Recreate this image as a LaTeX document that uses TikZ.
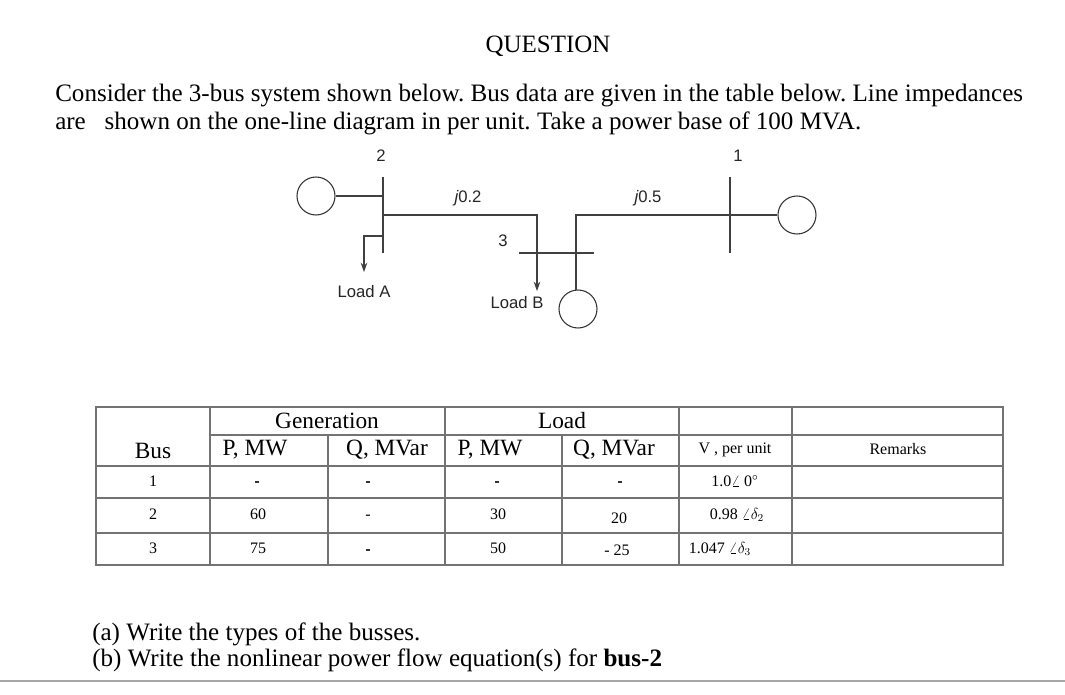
\documentclass[tikz,border=0pt]{standalone}
\usepackage{fontspec}
\setmainfont{Liberation Serif}
\newfontfamily\diagfont{Liberation Sans}
\usetikzlibrary{arrows.meta}
\frenchspacing
\begin{document}
\begin{tikzpicture}[x=0.75pt,y=-0.75pt,
  wire/.style={draw=black!75,line width=0.8pt},
  gen/.style={circle,draw=black!80,line width=0.8pt,minimum size=28.5pt,inner sep=0pt},
  lbl/.style={font=\diagfont\fontsize{12.5}{14}\selectfont,text=black!85},
  body/.style={font=\fontsize{18.8}{22}\selectfont,anchor=west,inner sep=0pt},
  grid/.style={draw=black!55,line width=0.9pt},
  th/.style={font=\fontsize{17.5}{20}\selectfont,inner sep=0pt},
  td/.style={font=\fontsize{12}{14}\selectfont,inner sep=0pt},
  dsh/.style={fill=black!80,minimum width=3pt,minimum height=2.2pt,inner sep=0pt},
  load/.style={-{Stealth[length=7pt,width=5pt]},wire}]
\useasboundingbox (0,0) rectangle (1065,695);
\fill[white] (0,0) rectangle (1065,695);
\node[font=\fontsize{18.7}{22}\selectfont] (q) at (548,46) {QUESTION};
\node[body] (l1) at (55,96) {Consider the 3-bus system shown below. Bus data are given in the table below. Line impedances};
\node[body] (l2) at (55,123) {are\ \ \ shown on the one-line diagram in per unit. Take a power base of 100 MVA.};
% one-line diagram
\coordinate (b2t) at (383,177); \coordinate (b2b) at (383,253);
\coordinate (b1t) at (730,177); \coordinate (b1b) at (730,253);
\coordinate (b3l) at (519,253); \coordinate (b3r) at (594,253);
\draw[wire] (b2t) -- (b2b);
\draw[wire] (b1t) -- (b1b);
\draw[wire] (b3l) -- (b3r);
\node[gen] (g2) at (316,196) {};
\node[gen] (g1) at (797,215) {};
\node[gen] (g3) at (578,309) {};
\coordinate (g2j) at (383,196);
\draw[wire] (g2) -- (g2j);
\coordinate (g1j) at (730,215);
\draw[wire] (g1) -- (g1j);
\coordinate (a1) at (383,215); \coordinate (a2) at (537,215); \coordinate (a3) at (537,253);
\draw[wire] (a1) -- (a2) -- (a3);
\coordinate (c1) at (576,253); \coordinate (c2) at (576,215);
\draw[wire] (c1) -- (c2) -- (g1j);
\coordinate (c3) at (576,290);
\draw[wire] (c1) -- (c3);
\coordinate (la1) at (383,236); \coordinate (la2) at (364,236); \coordinate (la3) at (364,272);
\draw[load] (la1) -- (la2) -- (la3);
\coordinate (lb3) at (537,291);
\draw[load] (a3) -- (lb3);
\node[lbl] (n2) at (381,156) {2};
\node[lbl] (n1) at (738,156) {1};
\node[lbl] (n3) at (503,241) {3};
\node[lbl] (z1) at (468,198) {\itshape j\upshape0.2};
\node[lbl] (z2) at (648,198) {\itshape j\upshape0.5};
\node[lbl] (la) at (364,292) {Load A};
\node[lbl] (lb) at (517,303) {Load B};
% table
\draw[grid] (96,407) rectangle (1003,565);
\draw[grid] (210,435) -- (1003,435);
\foreach \y in {466,498,533} \draw[grid] (96,\y) -- (1003,\y);
\foreach \x in {210,445,679,792} \draw[grid] (\x,407) -- (\x,565);
\foreach \x in {328,562} \draw[grid] (\x,435) -- (\x,565);
\node[th] (hg) at (327,421) {Generation};
\node[th] (hl) at (562,421) {Load};
\node[th] (hb) at (153,451) {Bus};
\node[th] (h1) at (255,450) {P, MW};
\node[th] (h2) at (387,450) {Q, MVar};
\node[th] (h3) at (490,450) {P, MW};
\node[th] (h4) at (614,450) {Q, MVar};
\node[td] (h5) at (735,450) {V , per unit};
\node[td] (h6) at (898,449) {Remarks};
\node[td] (r11) at (153,481) {1};
\node[dsh] (r12) at (257,482) {};
\node[dsh] (r13) at (368,482) {};
\node[dsh] (r14) at (497,482) {};
\node[dsh] (r15) at (620,482) {};
\node[td] (r16) at (735,481) {1.0$\angle$ 0$^\circ$};
\node[td] (r21) at (153,514) {2};
\node[td] (r22) at (258,514) {60};
\node[td] (r23) at (368,517) {-};
\node[td] (r24) at (498,514) {30};
\node[td] (r25) at (619,518) {20};
\node[td] (r26) at (737,515) {0.98 $\angle\delta_2$};
\node[td] (r31) at (153,548) {3};
\node[td] (r32) at (258,548) {75};
\node[dsh] (r33) at (368,550) {};
\node[td] (r34) at (498,548) {50};
\node[td] (r35) at (617,550) {- 25};
\node[td] (r36) at (720,549) {1.047 $\angle\delta_3$};
\node[body] (qa) at (92,634) {(a)\ Write the types of the busses.};
\node[body] (qb) at (92,660) {(b)\ Write the nonlinear power flow equation(s) for \textbf{bus-2}};
\draw[draw=black!35,line width=1.2pt] (0,681) -- (1065,681);
\end{tikzpicture}
\end{document}
